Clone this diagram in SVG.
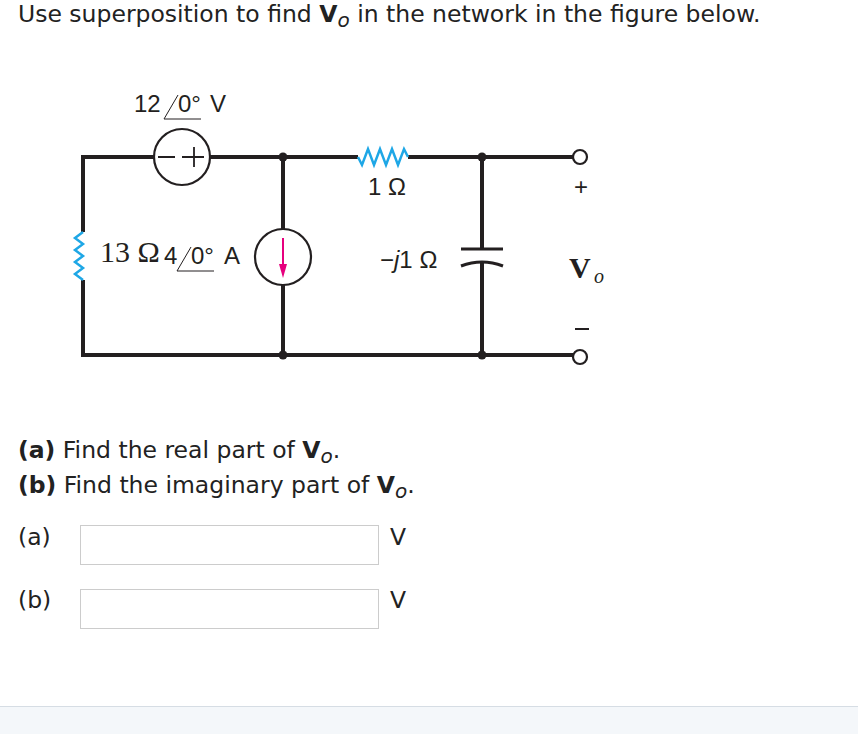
<svg xmlns="http://www.w3.org/2000/svg" width="858" height="734" viewBox="0 0 858 734">
<style>
.t{font-family:"DejaVu Sans",Verdana,sans-serif;fill:#222;font-size:23.5px}
.w{stroke:#231f20;stroke-width:4;fill:none}
.c{stroke:#231f20;stroke-width:2.2;fill:#fff}
.z{stroke:#1ea7e6;stroke-width:2.5;fill:none}
.s{font-family:"Liberation Serif",serif;fill:#231f20}
.h{font-family:"Liberation Sans",Arial,sans-serif;fill:#231f20;font-size:24px}
.d{fill:#231f20}
.box{fill:#fff;stroke:#ccc;stroke-width:1}
</style>
<rect width="858" height="734" fill="#fff"/>
<text class="t" x="18" y="22">Use superposition to find <tspan font-weight="bold">V</tspan><tspan font-style="italic" dy="5" font-size="20">o</tspan><tspan dy="-5"> in the network in the figure below.</tspan></text>
<g id="connectors">
<path class="w" d="M83 232 V157 H154 M210 157 H358 M408 157 H574"/>
<path class="w" d="M83 280 V355 H574"/>
<path class="w" d="M283 157 V229 M283 285 V355"/>
<path class="w" d="M482 157 V250 M482 261 V355"/>
</g>
<g id="R13"><path class="z" d="M83 232 L75 238 L83 244 L75 250 L83 256 L75 262 L83 268 L75 274 L83 280"/>
<text class="s" x="100" y="262" font-size="30">13 Ω</text></g>
<g id="Vs"><circle class="c" cx="182" cy="157" r="28"/>
<path stroke="#231f20" stroke-width="1.8" d="M158 157 H175 M182 157 H204 M194 147 V167"/>
<text class="h" x="134" y="112">12</text>
<path stroke="#231f20" stroke-width="1" fill="none" d="M164 119 L178 95 M164 119 H201"/>
<text class="h" x="178" y="112">0°</text><text class="h" x="210" y="112">V</text></g>
<g id="Is"><circle class="c" cx="283" cy="257" r="28"/>
<path stroke="#e6007e" stroke-width="2" d="M283 238 V266"/><path fill="#e6007e" d="M279 264 H287 L283 278 Z"/>
<text class="h" x="164" y="264">4</text>
<path stroke="#231f20" stroke-width="1" fill="none" d="M177 271 L191 247 M177 271 H214"/>
<text class="h" x="191" y="264">0°</text><text class="h" x="224" y="264">A</text></g>
<g id="R1"><path class="z" d="M358 157 L362 165 L368 149 L374 165 L380 149 L386 165 L392 149 L398 165 L404 149 L408 157"/>
<text class="h" x="368" y="195">1 Ω</text></g>
<g id="C"><path stroke="#231f20" stroke-width="3" fill="none" d="M461 249 H503 M461 266 Q482 258 503 266"/>
<text class="h" x="380" y="268">−<tspan font-style="italic">j</tspan>1 Ω</text></g>
<g id="nodes"><circle class="d" cx="283" cy="157" r="4.5"/><circle class="d" cx="283" cy="355" r="4.5"/><circle class="d" cx="482" cy="157" r="4.5"/><circle class="d" cx="482" cy="355" r="4.5"/></g>
<g id="terms"><circle class="c" cx="580" cy="157" r="7"/><circle class="c" cx="580" cy="357" r="7"/>
<text class="h" x="574" y="195">+</text>
<path stroke="#231f20" stroke-width="2" d="M575 329 H589"/>
<text class="s" x="569" y="278" font-size="30" font-weight="bold">V</text><text class="s" x="594" y="283" font-size="20" font-style="italic">o</text></g>
<text class="t" x="18" y="458"><tspan font-weight="bold">(a)</tspan> Find the real part of <tspan font-weight="bold">V</tspan><tspan font-style="italic" dy="5" font-size="20">o</tspan><tspan dy="-5">.</tspan></text>
<text class="t" x="18" y="493"><tspan font-weight="bold">(b)</tspan> Find the imaginary part of <tspan font-weight="bold">V</tspan><tspan font-style="italic" dy="5" font-size="20">o</tspan><tspan dy="-5">.</tspan></text>
<text class="t" x="18" y="545">(a)</text><rect class="box" x="80.5" y="525.5" width="298" height="39"/><text class="t" x="390" y="545">V</text>
<text class="t" x="18" y="608">(b)</text><rect class="box" x="80.5" y="589.5" width="298" height="39"/><text class="t" x="390" y="608">V</text>
<rect x="0" y="706" width="858" height="28" fill="#f4f7fa"/><path d="M0 706.5 H858" stroke="#d6dde4"/>
</svg>
